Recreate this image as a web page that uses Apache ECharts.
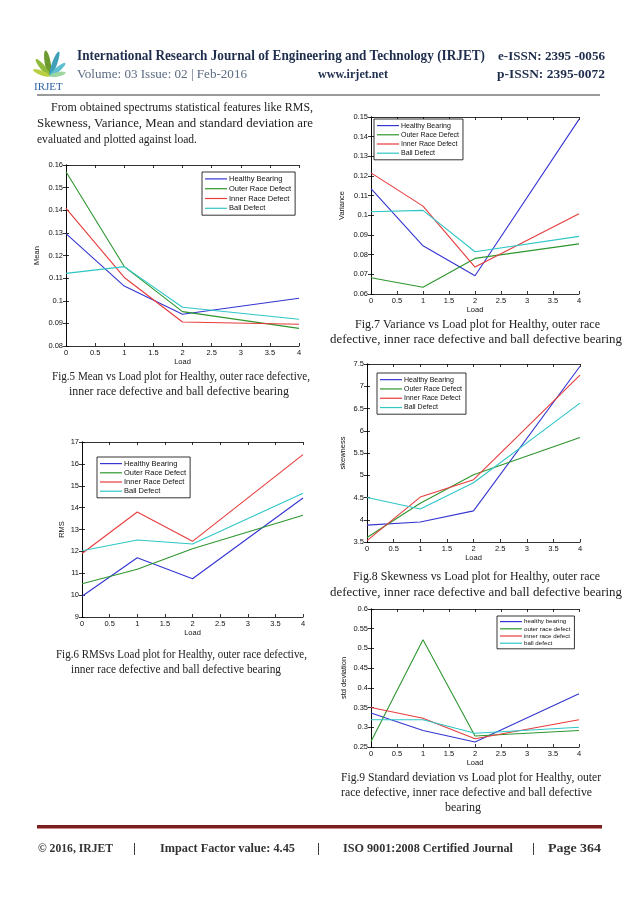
<!DOCTYPE html>
<html>
<head>
<meta charset="utf-8">
<script src="https://cdn.jsdelivr.net/npm/echarts@6/dist/echarts.min.js"></script>
<style>
  html, body { margin:0; padding:0; background:#fff; }
  #page { position:relative; width:638px; height:902px; overflow:hidden; background:#fff; }
  #chart { position:absolute; left:0; top:0; width:638px; height:902px; }
  .t { position:absolute; white-space:nowrap; line-height:1; transform-origin:left center; z-index:2;
       font-family:"Liberation Serif","DejaVu Serif",serif; color:#222; }
  .b { font-weight:bold; }
  .hdr { color:#1f2d4d; }
  .rule { position:absolute; z-index:2; }
</style>
</head>
<body>
<div id="page">
  <div id="chart"></div>

  <!-- logo -->
  <svg style="position:absolute;left:30px;top:42px;z-index:2" width="45" height="55" viewBox="0 0 45 55">
    <g transform="translate(20,34)">
      <ellipse cx="0" cy="-13" rx="3" ry="13" fill="#6c9a2e" transform="rotate(-10)"/>
      <ellipse cx="0" cy="-11" rx="2.6" ry="11" fill="#8fbb3c" transform="rotate(-40)"/>
      <ellipse cx="0" cy="-9" rx="2.4" ry="9" fill="#b9cf44" transform="rotate(-70)"/>
      <ellipse cx="0" cy="-13" rx="2.6" ry="13" fill="#3f9fb8" transform="rotate(20)"/>
      <ellipse cx="0" cy="-10" rx="2.4" ry="10" fill="#5dbfd0" transform="rotate(50)"/>
      <ellipse cx="0" cy="-8" rx="2.2" ry="8" fill="#9ed6a0" transform="rotate(78)"/>
    </g>
    <text x="4" y="48" font-family="Liberation Serif,serif" font-size="11" fill="#2f64a8">IRJET</text>
  </svg>

  <!-- header -->
  <div class="t b hdr" data-x="77" data-y="57" data-w="408" style="font-size:14px">International Research Journal of Engineering and Technology (IRJET)</div>
  <div class="t b hdr" data-x="498" data-y="57" data-w="107" style="font-size:12.5px">e-ISSN: 2395 -0056</div>
  <div class="t" data-x="77" data-y="75" data-w="170" style="font-size:12.5px;color:#5b6b82">Volume: 03 Issue: 02 | Feb-2016</div>
  <div class="t b hdr" data-x="318" data-y="75" data-w="70" style="font-size:12.5px">www.irjet.net</div>
  <div class="t b hdr" data-x="497" data-y="75" data-w="108" style="font-size:12.5px">p-ISSN: 2395-0072</div>
  <div class="rule" style="left:37px;top:94px;width:563px;height:1.5px;background:#9a9a9a"></div>

  <!-- paragraph -->
  <div class="t" data-x="51" data-y="108" data-w="262" style="font-size:12.5px">From obtained spectrums statistical features like RMS,</div>
  <div class="t" data-x="37" data-y="124" data-w="276" style="font-size:12.5px">Skewness, Variance, Mean and standard deviation are</div>
  <div class="t" data-x="37" data-y="140" data-w="160" style="font-size:12.5px">evaluated and plotted against load.</div>

  <!-- captions -->
  <div class="t" data-x="52" data-y="377" data-w="258" style="font-size:12.5px">Fig.5 Mean vs Load plot for Healthy, outer race defective,</div>
  <div class="t" data-x="69" data-y="392" data-w="220" style="font-size:12.5px">inner race defective and ball defective bearing</div>

  <div class="t" data-x="355" data-y="325" data-w="245" style="font-size:12.5px">Fig.7 Variance vs Load plot for Healthy, outer race</div>
  <div class="t" data-x="330" data-y="340" data-w="292" style="font-size:12.5px">defective, inner race defective and ball defective bearing</div>

  <div class="t" data-x="56" data-y="655" data-w="251" style="font-size:12.5px">Fig.6 RMSvs Load plot for Healthy, outer race defective,</div>
  <div class="t" data-x="71" data-y="670" data-w="210" style="font-size:12.5px">inner race defective and ball defective bearing</div>

  <div class="t" data-x="353" data-y="577" data-w="247" style="font-size:12.5px">Fig.8 Skewness vs Load plot for Healthy, outer race</div>
  <div class="t" data-x="330" data-y="593" data-w="292" style="font-size:12.5px">defective, inner race defective and ball defective bearing</div>

  <div class="t" data-x="341" data-y="778" data-w="260" style="font-size:12.5px">Fig.9 Standard deviation vs Load plot for Healthy, outer</div>
  <div class="t" data-x="341" data-y="793" data-w="251" style="font-size:12.5px">race defective, inner race defective and ball defective</div>
  <div class="t" data-x="445" data-y="808" data-w="36" style="font-size:12.5px">bearing</div>

  <!-- footer -->
  <div class="rule" style="left:37px;top:825px;width:565px;height:3px;background:#7b1f1f"></div>
  <div class="rule" style="left:37px;top:828px;width:565px;height:1px;background:#c98a8a"></div>
  <div class="t b" data-x="38" data-y="848" data-w="75" style="font-size:13.5px;color:#333">© 2016, IRJET</div>
  <div class="t b" data-x="133" data-y="848" data-w="3" style="font-size:13.5px;color:#333">|</div>
  <div class="t b" data-x="160" data-y="848" data-w="135" style="font-size:13.5px;color:#333">Impact Factor value: 4.45</div>
  <div class="t b" data-x="317" data-y="848" data-w="3" style="font-size:13.5px;color:#333">|</div>
  <div class="t b" data-x="343" data-y="848" data-w="170" style="font-size:13.5px;color:#333">ISO 9001:2008 Certified Journal</div>
  <div class="t b" data-x="532" data-y="848" data-w="3" style="font-size:13.5px;color:#333">|</div>
  <div class="t b" data-x="548" data-y="848" data-w="53" style="font-size:13.5px;color:#333">Page 364</div>
</div>

<script>
// ---------------- data ----------------
const loads = [0, 1, 2, 4];
const seriesNames = ['Healthy Bearing', 'Outer Race Defect', 'Inner Race Defect', 'Ball Defect'];
const stdNames = ['healthy bearing', 'outer race defect', 'inner race defect', 'ball defect'];
const loadTicks = { min: 0, max: 4, interval: 0.5 };

// Fig.5 Mean
const meanHealthy = [0.1297, 0.1065, 0.0940, 0.1011];
const meanOuter   = [0.1570, 0.1151, 0.0952, 0.0878];
const meanInner   = [0.1408, 0.1103, 0.0906, 0.0896];
const meanBall    = [0.1121, 0.1151, 0.0971, 0.0918];
const meanTicks   = { min: 0.08, max: 0.16, interval: 0.01 };

// Fig.7 Variance
const varHealthy = [0.1136, 0.0845, 0.0693, 0.1488];
const varOuter   = [0.0683, 0.0634, 0.0781, 0.0855];
const varInner   = [0.1216, 0.1047, 0.0737, 0.1008];
const varBall    = [0.1018, 0.1025, 0.0815, 0.0893];
const varTicks   = { min: 0.06, max: 0.15, interval: 0.01 };

// Fig.6 RMS
const rmsHealthy = [9.95, 11.71, 10.75, 14.44];
const rmsOuter   = [10.52, 11.18, 12.12, 13.65];
const rmsInner   = [11.90, 13.80, 12.46, 16.42];
const rmsBall    = [12.03, 12.52, 12.34, 14.66];
const rmsTicks   = { min: 9, max: 17, interval: 1 };

// Fig.8 Skewness
const skwHealthy = [3.88, 3.95, 4.20, 7.45];
const skwOuter   = [3.60, 4.37, 5.01, 5.85];
const skwInner   = [3.53, 4.51, 4.90, 7.25];
const skwBall    = [4.50, 4.24, 4.83, 6.62];
const skwTicks   = { min: 3.5, max: 7.5, interval: 0.5 };

// Fig.9 Standard deviation
const stdHealthy = [0.336, 0.292, 0.2625, 0.385];
const stdOuter   = [0.264, 0.522, 0.278, 0.292];
const stdInner   = [0.350, 0.323, 0.271, 0.319];
const stdBall    = [0.319, 0.319, 0.285, 0.300];
const stdTicks   = { min: 0.25, max: 0.6, interval: 0.05 };

// ---------------- layout / style ----------------
const colors = ['#3535d2', '#2e962e', '#e63c3c', '#2fc6c6'];
const tickFont = 'Liberation Sans';

const panels = [
  { grid: {left:66, top:165, width:233, height:181}, yName:'Mean', yGap:25, ticks:meanTicks,
    data:[meanHealthy, meanOuter, meanInner, meanBall], names:seriesNames,
    legend:{left:202, top:172, font:7.5, lh:9.8} },
  { grid: {left:371, top:117, width:208, height:177}, yName:'Variance', yGap:25, ticks:varTicks,
    data:[varHealthy, varOuter, varInner, varBall], names:seriesNames,
    legend:{left:374, top:119, font:7, lh:9.2} },
  { grid: {left:82, top:442, width:221, height:175}, yName:'RMS', yGap:16, ticks:rmsTicks,
    data:[rmsHealthy, rmsOuter, rmsInner, rmsBall], names:seriesNames,
    legend:{left:97, top:457, font:7.5, lh:9.2} },
  { grid: {left:367, top:364, width:213, height:178}, yName:'skewness', yGap:20, ticks:skwTicks,
    data:[skwHealthy, skwOuter, skwInner, skwBall], names:seriesNames,
    legend:{left:377, top:373, font:7, lh:9.3} },
  { grid: {left:371, top:609, width:208, height:138}, yName:'std deviation', yGap:23, ticks:stdTicks,
    data:[stdHealthy, stdOuter, stdInner, stdBall], names:stdNames,
    legend:{left:497, top:616, font:6.2, lh:7.2} }
];

const lineAx = { show:true, lineStyle:{ color:'#000', width:0.8 } };
const tickAx = { show:true, inside:true, length:3, lineStyle:{ color:'#000', width:0.8 } };

const grids = [], xAxes = [], yAxes = [], series = [], legends = [];
panels.forEach((p, i) => {
  grids.push(Object.assign({ containLabel:false }, p.grid));
  const xBase = { type:'value', gridIndex:i, min:loadTicks.min, max:loadTicks.max, interval:loadTicks.interval,
                  axisLine:lineAx, axisTick:tickAx, splitLine:{show:false} };
  xAxes.push(Object.assign({}, xBase, {
    position:'bottom', name:'Load', nameLocation:'middle', nameGap:12,
    nameTextStyle:{ fontSize:7.5, fontFamily:tickFont, color:'#111' },
    axisLabel:{ fontSize:7.5, fontFamily:tickFont, color:'#111', margin:3 }
  }));
  xAxes.push(Object.assign({}, xBase, { position:'top', axisLabel:{show:false} }));
  const yBase = { type:'value', gridIndex:i, min:p.ticks.min, max:p.ticks.max, interval:p.ticks.interval,
                  axisLine:lineAx, axisTick:tickAx, splitLine:{show:false} };
  yAxes.push(Object.assign({}, yBase, {
    position:'left', name:p.yName, nameLocation:'middle', nameGap:p.yGap, nameRotate:90,
    nameTextStyle:{ fontSize:7.5, fontFamily:tickFont, color:'#111' },
    axisLabel:{ fontSize:7.5, fontFamily:tickFont, color:'#111', margin:3 }
  }));
  yAxes.push(Object.assign({}, yBase, { position:'right', axisLabel:{show:false} }));
  p.data.forEach((arr, k) => {
    series.push({
      type:'line', name:p.names[k], xAxisIndex:2*i, yAxisIndex:2*i,
      data: loads.map((x, j) => [x, arr[j]]),
      symbol:'none', showSymbol:false, clip:true, animation:false,
      lineStyle:{ color:colors[k], width:1.1 }, itemStyle:{ color:colors[k] }
    });
  });
  legends.push({
    left:p.legend.left, top:p.legend.top, orient:'vertical', selectedMode:false,
    data:p.names.map(n => ({ name:n, icon:'rect' })),
    itemWidth:22, itemHeight:1.2, itemGap:0,
    padding:[2,4,2,3], borderColor:'#000', borderWidth:0.8, backgroundColor:'#fff',
    textStyle:{ fontSize:p.legend.font, lineHeight:p.legend.lh, fontFamily:tickFont, color:'#111', padding:[0,0,0,-3] }
  });
});

const chart = echarts.init(document.getElementById('chart'), null, { renderer:'canvas' });
chart.setOption({
  animation:false,
  color:colors,
  grid:grids, xAxis:xAxes, yAxis:yAxes, series:series, legend:legends
});

// ---------------- text placement ----------------
document.querySelectorAll('.t').forEach(el => {
  const x = +el.dataset.x, y = +el.dataset.y, w = +el.dataset.w;
  el.style.left = x + 'px';
  const fs = parseFloat(el.style.fontSize) || 12;
  el.style.top = (y - fs * 0.55) + 'px';
  const nat = el.getBoundingClientRect().width;
  if (nat > 0 && w) el.style.transform = 'scaleX(' + (w / nat) + ')';
});
</script>
</body>
</html>
